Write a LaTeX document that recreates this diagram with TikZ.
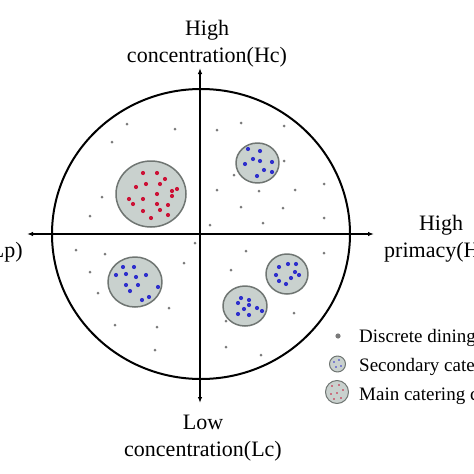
\documentclass[tikz,border=0pt]{standalone}
\usepackage{fontspec}
\setmainfont{Liberation Serif}
\usetikzlibrary{arrows.meta}
\definecolor{cluster}{HTML}{C9D1CE}
\definecolor{rim}{HTML}{6F7572}
\definecolor{spot}{HTML}{7A7A7A}
\definecolor{sec}{HTML}{2F2FCC}
\definecolor{mainc}{HTML}{CC1236}
\newcommand{\Spot}{1.5}
\newcommand{\Pin}{2.1}

\begin{document}
\begin{tikzpicture}[x=1pt,y=-1pt, line join=round,
  axislabel/.style={align=center, inner sep=0pt, font=\fontsize{22}{27}\selectfont},
  keylabel/.style={anchor=base west, inner sep=0pt, font=\fontsize{19}{23}\selectfont},
  blob/.style={fill=cluster, draw=rim, line width=1.5pt}]

  \useasboundingbox (0,0) rectangle (474,474);
  \clip (0,0) rectangle (474,474);

  % ---- the whole area -----------------------------------------------------
  \draw[black,line width=2pt] (201,234) ellipse (149 and 145);

  % ---- discrete dining points, scattered over the four quarters ----------
  \foreach \x/\y in {127/124,175/129,112/142,217/130,241/123,284/126,284/161,
      234/175,217/190,259/191,295/190,324/184,241/207,283/208,324/218,263/223,
      210/225,102/197,90/216,195/243,246/251,324/253,231/270,76/250,105/254,
      184/263,90/272,98/293,169/308,115/325,157/327,155/350,226/321,294/313,
      226/347,261/355}
    \fill[spot] (\x,\y) circle (\Spot);

  % ---- main catering cluster (red) ---------------------------------------
  \fill[blob] (151,194) ellipse (35 and 33);
  \foreach \x/\y in {143/173,157/173,165/179,136/187,146/184,160/184,157/194,
      172/191,177/189,172/196,129/199,133/204,143/199,157/204,168/205,143/211,
      160/210,151/218,168/215}
    \fill[mainc] (\x,\y) circle (\Pin);

  % ---- secondary catering clusters (blue) --------------------------------
  \fill[blob] (257.5,163) ellipse (21.5 and 20);
  \foreach \x/\y in {248/149,260/151,253/159,260/161,272/162,245/164,264/170,
      272/172,257/176}
    \fill[sec] (\x,\y) circle (\Pin);

  \fill[blob] (287,274) ellipse (21 and 20);
  \foreach \x/\y in {279/267,288/264,296/264,276/275,295/272,299/275,291/278,
      279/281,286/284}
    \fill[sec] (\x,\y) circle (\Pin);

  \fill[blob] (245,306) ellipse (22 and 20);
  \foreach \x/\y in {241/298,238/303,249/300,249/305,244/309,257/308,262/311,
      238/314,249/315}
    \fill[sec] (\x,\y) circle (\Pin);

  \fill[blob] (135,282) ellipse (27 and 25);
  \foreach \x/\y in {123/267,134/267,116/275,126/274,136/277,146/275,126/285,
      138/285,158/287,130/291,142/300,149/297}
    \fill[sec] (\x,\y) circle (\Pin);

  % ---- axes ---------------------------------------------------------------
  \coordinate (up)    at (200,68);
  \coordinate (down)  at (200,403);
  \coordinate (left)  at (27,234);
  \coordinate (right) at (374,234);
  \draw[line width=1.4pt,{Latex[length=6pt,width=4.5pt]}-{Latex[length=6pt,width=4.5pt]}]
    (down) -- (up);
  \draw[line width=1.4pt,{Latex[length=6pt,width=4.5pt]}-{Latex[length=6pt,width=4.5pt]}]
    (left) -- (right);

  % base anchor sits on the second line
  \node[axislabel,anchor=base] (hc) at (207,62)  {High\\concentration(Hc)};
  \node[axislabel,anchor=base] (lc) at (203,456) {Low\\concentration(Lc)};
  \node[axislabel,anchor=base] (hp) at (441,257) {High\\primacy(Hp)};
  \node[axislabel,anchor=base] (lp) at (-33,257) {Low\\primacy(Lp)};

  % ---- legend -------------------------------------------------------------
  \fill[spot] (338,336) circle (2.6);
  \node[keylabel] (kdisc) at (359,342) {Discrete dining points};

  \fill[blob,line width=1pt] (337.5,364) circle (8);
  \foreach \x/\y in {334/362,339/360,341/366,336/367}
    \fill[sec] (\x,\y) circle (0.8);
  \node[keylabel] (ksec) at (359,371) {Secondary catering centers};

  \fill[blob,line width=1pt] (337,392) circle (11.5);
  \foreach \x/\y in {332/386,339/385,343/390,331/394,337/393,334/399,341/398}
    \fill[mainc] (\x,\y) circle (0.8);
  \node[keylabel] (kmain) at (359,400) {Main catering centers};

\end{tikzpicture}
\end{document}
